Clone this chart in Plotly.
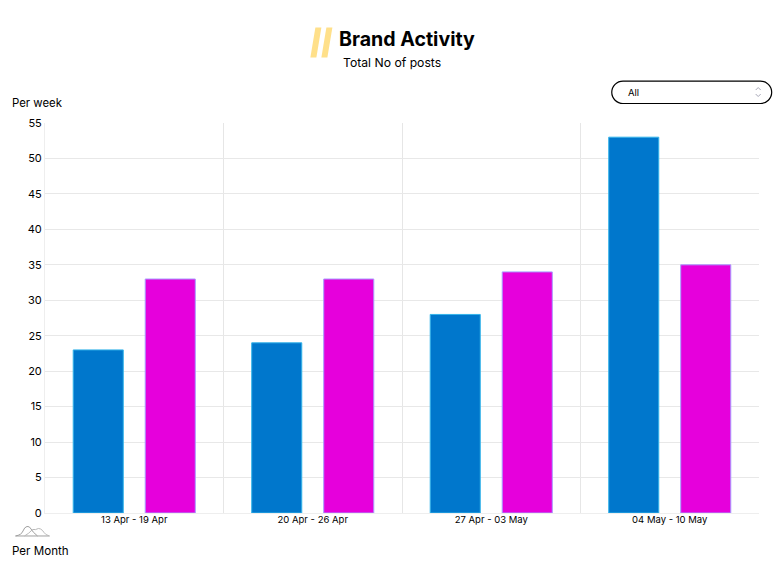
import plotly.graph_objects as go

categories = ["13 Apr - 19 Apr", "20 Apr - 26 Apr", "27 Apr - 03 May", "04 May - 10 May"]
series_a = [23, 24, 28, 53]
series_b = [33, 33, 34, 35]
y_ticks = list(range(0, 60, 5))

W, H = 784, 571
L, R, T, B = 44.5, 758.8, 122.5, 513
FONT = "Inter, 'Liberation Sans', sans-serif"


def px(x):
    return (x - L) / (R - L)


def py(y):
    return (B - y) / (B - T)


def p(x, y):
    return f"{px(x):.5f},{py(y):.5f}"


def path(points, close=True):
    d = "M " + " L ".join(p(x, y) for x, y in points)
    return d + (" Z" if close else "")


def smooth(points):
    # quadratic curve through midpoints of the given control points
    d = "M " + p(*points[0])
    for i in range(1, len(points) - 1):
        mx = (points[i][0] + points[i + 1][0]) / 2
        my = (points[i][1] + points[i + 1][1]) / 2
        end = points[-1] if i == len(points) - 2 else (mx, my)
        d += f" Q {p(*points[i])} {p(*end)}"
    return d


def pill(x0, y0, x1, y1):
    r = (y1 - y0) / 2
    k = 0.55 * r
    return (
        f"M {p(x0 + r, y0)} L {p(x1 - r, y0)} "
        f"C {p(x1 - r + k, y0)} {p(x1, y0 + r - k)} {p(x1, y0 + r)} "
        f"C {p(x1, y0 + r + k)} {p(x1 - r + k, y1)} {p(x1 - r, y1)} "
        f"L {p(x0 + r, y1)} "
        f"C {p(x0 + r - k, y1)} {p(x0, y0 + r + k)} {p(x0, y0 + r)} "
        f"C {p(x0, y0 + r - k)} {p(x0 + r - k, y0)} {p(x0 + r, y0)} Z"
    )


def text(x, y, s, size, anchor="left", weight=400):
    return dict(xref="paper", yref="paper", x=px(x), y=py(y), text=s, showarrow=False,
                xanchor=anchor, yanchor="middle", xshift=0,
                font=dict(family=FONT, size=size, color="#000000", weight=weight))


fig = go.Figure()
fig.add_bar(x=categories, y=series_a, name="Series A", marker=dict(color="#0077CC", line=dict(color="#35B4EA", width=1)))
fig.add_bar(x=categories, y=series_b, name="Series B", marker=dict(color="#E600DC", line=dict(color="#A79CFF", width=1)))

shapes = [
    dict(type="path", xref="paper", yref="paper", line_width=0, fillcolor="#FFE08A",
         path=path([(315, 27), (321, 27), (316, 57), (310, 57)])),
    dict(type="path", xref="paper", yref="paper", line_width=0, fillcolor="#FFE08A",
         path=path([(326, 27), (332, 27), (327, 57), (321, 57)])),
    dict(type="path", xref="paper", yref="paper", line=dict(color="#000000", width=1.2), fillcolor="#FFFFFF",
         path=pill(611.5, 80.5, 771.5, 103)),
    dict(type="path", xref="paper", yref="paper", line=dict(color="#A8A8B8", width=1), fillcolor="rgba(0,0,0,0)",
         path=path([(755.5, 89.5), (758, 87), (760.5, 89.5)], close=False)),
    dict(type="path", xref="paper", yref="paper", line=dict(color="#A8A8B8", width=1), fillcolor="rgba(0,0,0,0)",
         path=path([(755.5, 93.5), (758, 96), (760.5, 93.5)], close=False)),
    dict(type="line", xref="paper", yref="paper", line=dict(color="#A0A0A0", width=1),
         x0=px(15), x1=px(49), y0=py(536), y1=py(536)),
    dict(type="path", xref="paper", yref="paper", line=dict(color="#A0A0A0", width=1), fillcolor="rgba(0,0,0,0)",
         path=smooth([(15, 536), (21, 535), (24, 527), (29, 526), (32, 532), (37, 536)])),
    dict(type="path", xref="paper", yref="paper", line=dict(color="#B8B8B8", width=1), fillcolor="rgba(0,0,0,0)",
         path=smooth([(24, 536), (29, 533), (32, 529), (35, 530), (38, 528), (42, 530), (45, 535), (49, 536)])),
]

annotations = [
    text(337, 38.2, "Brand Activity", 19.6, weight=700),
    text(392, 61.6, "Total No of posts", 12.2, anchor="center"),
    text(9, 102.3, "Per week", 11.4),
    text(9, 551.4, "Per Month", 11.6),
    text(626, 91.5, "All", 9.5),
]

fig.update_layout(
    width=W, height=H, autosize=False,
    margin=dict(l=L, r=W - R, t=T, b=H - B, pad=0),
    paper_bgcolor="#FFFFFF", plot_bgcolor="#FFFFFF",
    showlegend=False,
    barmode="group", bargap=0.193, bargroupgap=0.305,
    font=dict(family=FONT, size=10.5, color="#000000"),
    shapes=shapes, annotations=annotations,
    xaxis=dict(type="category", tickson="boundaries", showgrid=True, gridcolor="#E6E6E6", gridwidth=1,
               showline=True, linecolor="#EEEEEE", ticks="", ticklabelstandoff=-2, tickfont=dict(size=9.5)),
    yaxis=dict(range=[0, 55], tickvals=y_ticks, showgrid=True, gridcolor="#E8E8E8", gridwidth=1,
               zeroline=False, showline=True, linecolor="#EEEEEE", ticks="", tickfont=dict(size=11)),
)
fig.write_html("out.html", config=dict(displayModeBar=False),
               post_script="document.body.style.margin='0';document.documentElement.style.overflow='hidden';")
